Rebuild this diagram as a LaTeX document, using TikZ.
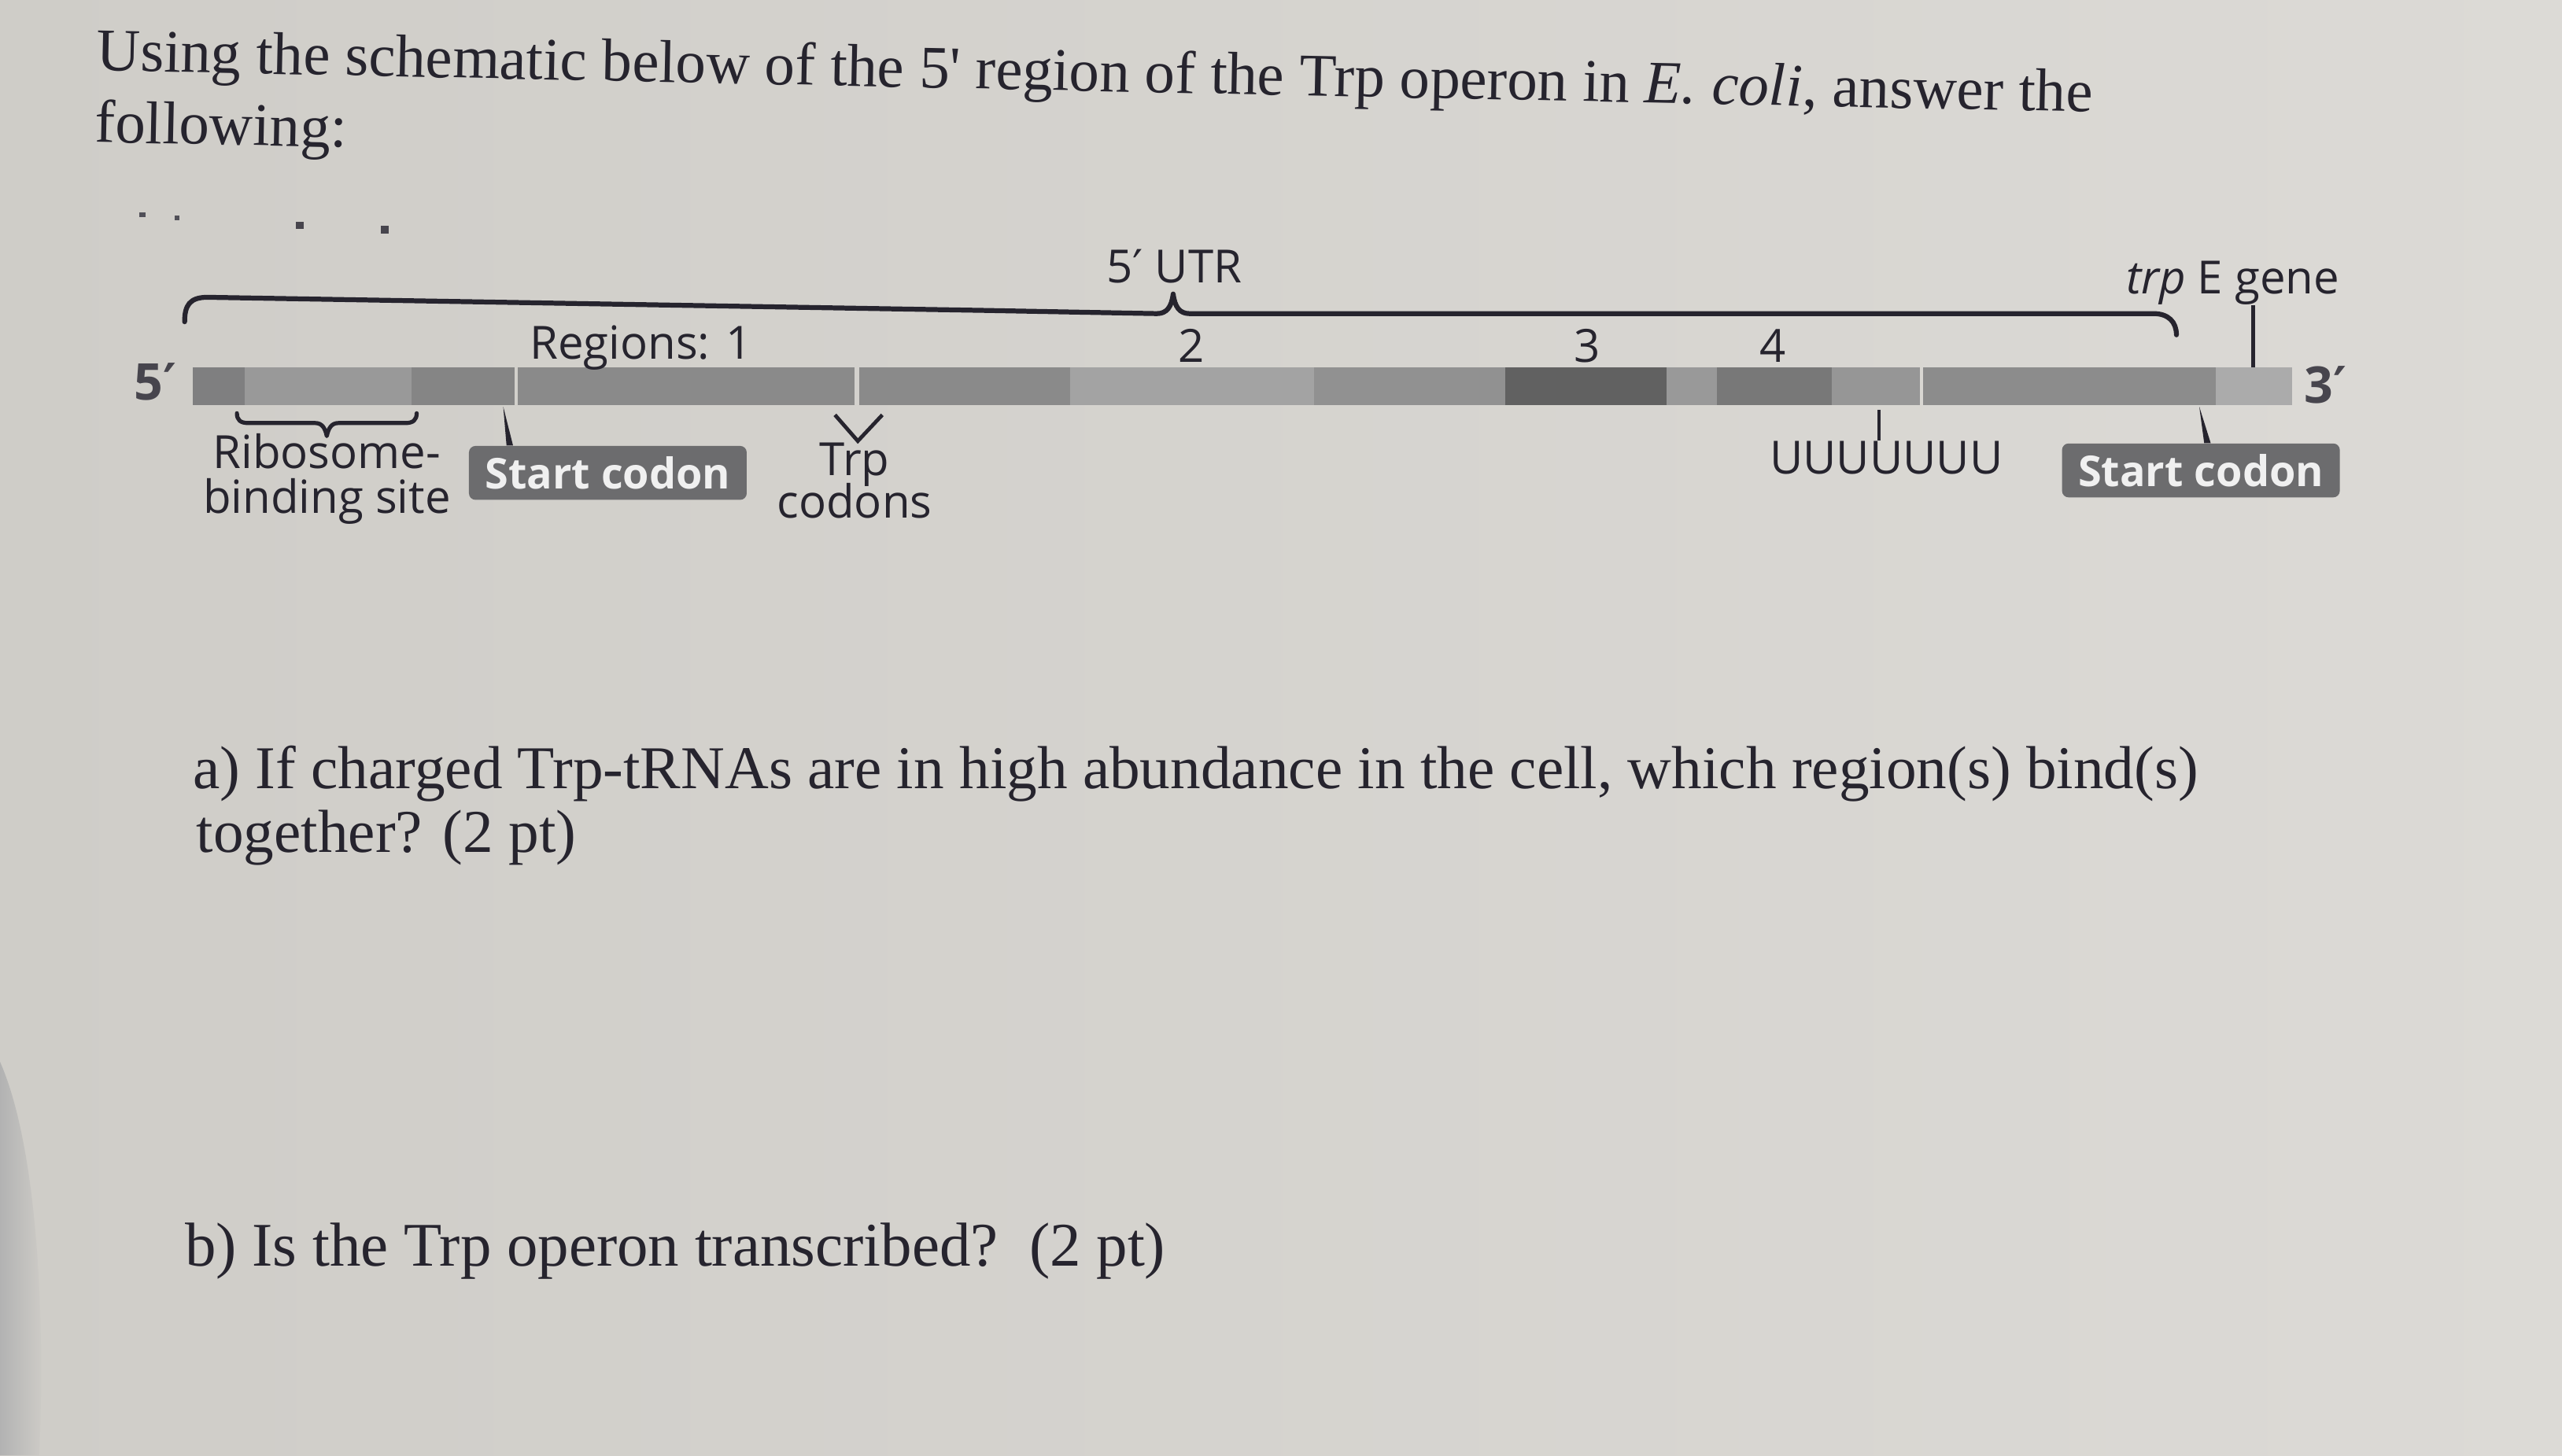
\documentclass[tikz,border=0pt]{standalone}
\usepackage{fontspec}
\setmainfont{Liberation Serif}
\newfontfamily\diag{Open Sans}
\newfontfamily\djv{DejaVu Sans}
\newcommand{\prm}{{\djv ′}}
\definecolor{ink}{HTML}{26242E}
\definecolor{paperL}{HTML}{CFCDC8}
\definecolor{paperR}{HTML}{DCDAD6}
\definecolor{boxgray}{HTML}{6C6C6E}
\definecolor{segA}{HTML}{7F7F80}
\begin{document}
\begin{tikzpicture}[x=1pt,y=-1pt,
  lbl/.style={font=\diag\fontsize{28}{30}\selectfont, text=ink, inner sep=0pt, anchor=base west},
  lblc/.style={font=\diag\fontsize{28}{30}\selectfont, text=ink, inner sep=0pt, anchor=base},
  bld/.style={font=\diag\bfseries\fontsize{31}{32}\selectfont, text=ink!85, inner sep=0pt, anchor=base west},
  ser/.style={font=\fontsize{37}{40}\selectfont, text=ink, inner sep=0pt, anchor=base west},
  startbox/.style={fill=boxgray, rounded corners=4pt, text=white!94!black, font=\diag\bfseries\fontsize{26}{30}\selectfont, minimum width=170pt, minimum height=33pt, inner sep=0pt},
  brk/.style={draw=ink, line width=3pt, line cap=round, line join=round},
  tick/.style={draw=ink, line width=2.4pt}
]
\useasboundingbox (0,0) rectangle (1568,891);
\shade[left color=paperL, right color=paperR] (0,0) rectangle (1568,891);
\shade[left color=black!30, right color=paperL] (0,650) .. controls (22,700) and (28,800) .. (24,891) -- (0,891) -- cycle;
% small marks
\fill[ink!80] (85,130) rectangle (89,133);
\fill[ink!80] (107,132) rectangle (110,135);
\fill[ink!85] (181,136) rectangle (186,140);
\fill[ink!85] (233,138) rectangle (238,143);
% title (anchor = baseline of its last line)
\node[ser, rotate=-1.2, align=left, font=\fontsize{37}{44}\selectfont] (title) at (58,87) {Using the schematic below of the 5\textquotesingle{} region of the Trp operon in \textit{E. coli}, answer the\\following:};
% bar
\fill[segA] (118,225) rectangle (150,248);
\fill[black!40] (150,225) rectangle (252,248);
\fill[black!48] (252,225) rectangle (315,248);
\fill[black!46] (317,225) rectangle (523,248);
\fill[black!46] (526,225) rectangle (655,248);
\fill[black!36] (655,225) rectangle (804,248);
\fill[black!43] (804,225) rectangle (921,248);
\fill[black!62] (921,225) rectangle (1020,248);
\fill[black!40] (1020,225) rectangle (1051,248);
\fill[black!53] (1051,225) rectangle (1121,248);
\fill[black!41] (1121,225) rectangle (1175,248);
\fill[black!45] (1177,225) rectangle (1356,248);
\fill[black!33] (1356,225) rectangle (1403,248);
% bar labels
\node[bld] (five) at (82,245) {5\prm};
\node[bld] (three) at (1410,247) {3\prm};
\node[lbl] (regions) at (324,220) {Regions: 1};
\node[lbl] (utr) at (677,173) {5\prm\ UTR};
\node[lbl] (r2) at (721,222) {2};
\node[lbl] (r3) at (963,222) {3};
\node[lbl] (r4) at (1077,222) {4};
\node[lbl] (trpE) at (1301,180) {\textit{trp} E gene};
% top bracket
\draw[brk] (113,197) .. controls (113,187) and (116,182) .. (127,182) -- (600,190) -- (708,192) .. controls (714,192) and (717,188) .. (718,180) .. controls (719,188) and (722,192) .. (728,192) -- (1318,192) .. controls (1327,192) and (1332,197) .. (1332,205);
\coordinate (trpEtip) at (1379,225);
\draw[tick, line width=2.8pt] (trpE.south -| trpEtip) -- (trpEtip);
% RBS brace
\draw[brk, line width=2.5pt] (145,253) .. controls (145,257) and (147,259) .. (152,259) -- (193,259) .. controls (197,259) and (199,262) .. (200,267) .. controls (201,262) and (203,259) .. (207,259) -- (248,259) .. controls (253,259) and (255,257) .. (255,253);
\node[lblc] (rbs1) at (200,287) {Ribosome-};
\node[lblc] (rbs2) at (200,314) {binding site};
% start codon 1
\node[startbox] (sc1) at (372,289.5) {Start codon};
\coordinate (sc1tip) at (308,249);
\fill[ink] (sc1tip) -- ([xshift=2pt]sc1tip |- sc1.north) -- ([xshift=6pt]sc1tip |- sc1.north) -- cycle;
% Trp codons
\node[lblc] (trp) at (523,291) {Trp};
\node[lblc] (codons) at (523,317) {codons};
\coordinate (trpapex) at (525,270);
\draw[tick, line width=2.3pt, line join=miter] (511,254) -- (trpapex) -- (540,254);
% UUUUUUU
\node[lbl] (uuu) at (1083,290) {UUUUUUU};
\coordinate (utick) at (1150,251);
\draw[tick, line width=2pt] (utick) -- (utick |- uuu.north);
% start codon 2
\node[startbox] (sc2) at (1347,288) {Start codon};
\coordinate (sc2tip) at (1346,249);
\fill[ink] (sc2tip) -- ([xshift=3pt]sc2tip |- sc2.north) -- ([xshift=7pt]sc2tip |- sc2.north) -- cycle;
% questions
\node[ser, font=\fontsize{37.2}{40}\selectfont] (qa1) at (118,483) {a) If charged Trp-tRNAs are in high abundance in the cell, which region(s) bind(s)};
\node[ser, font=\fontsize{37.2}{40}\selectfont] (qa2) at (120,522) {together? (2 pt)};
\node[ser, font=\fontsize{38}{40}\selectfont] (qb) at (113,775) {b) Is the Trp operon transcribed?~~(2 pt)};
\end{tikzpicture}
\end{document}
